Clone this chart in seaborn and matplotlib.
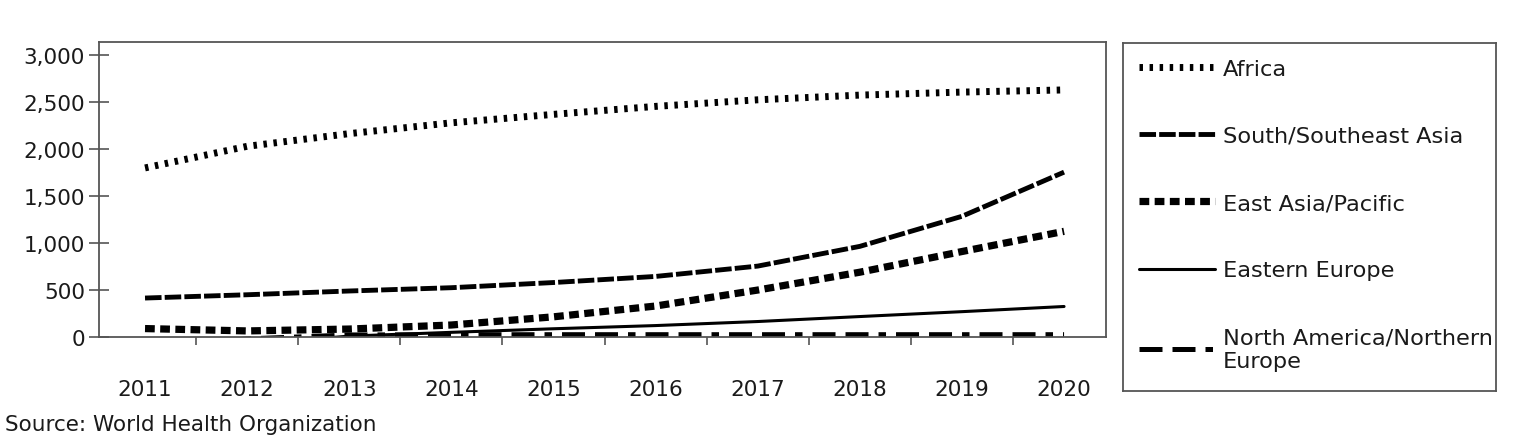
import numpy as np
import matplotlib
matplotlib.use("Agg")
import matplotlib.pyplot as plt
from matplotlib.ticker import FixedLocator, StrMethodFormatter
import seaborn as sns

years = [2011, 2012, 2013, 2014, 2015, 2016, 2017, 2018, 2019, 2020]
africa = [1800, 2030, 2165, 2280, 2370, 2455, 2525, 2575, 2607, 2630]
south_asia = [415, 450, 490, 525, 580, 645, 755, 965, 1285, 1755]
east_asia = [90, 65, 85, 128, 215, 330, 500, 690, 910, 1125]
east_europe = [-200, -80, 10, 50, 88, 122, 165, 218, 270, 325]
north_america = [-120, -20, 22, 24, 25, 25, 25, 25, 25, 25]

series_names = ["Africa", "South/Southeast Asia", "East Asia/Pacific",
                "Eastern Europe", "North America/Northern\nEurope"]

sns.set_style("white")
plt.rcParams['font.family'] = ['DejaVu Sans']

fig = plt.figure(figsize=(15.36, 4.39), dpi=100)
ax = fig.add_axes([0.0645, 0.23, 0.6555, 0.672])

styles = [
    (africa, 5.0, (0, (0.5, 0.95))),
    (south_asia, 3.5, (0, (3.4, 0.65))),
    (east_asia, 5.2, (0, (1.35, 0.75))),
    (east_europe, 2.2, '-'),
    (north_america, 3.6, (0, (4.6, 2, 4.6, 2, 1.5, 2))),
]
for (vals, lw, ls), name in zip(styles, series_names):
    sns.lineplot(x=years, y=vals, ax=ax, color='black', lw=lw,
                 linestyle=ls, label=name)

handles, labels = ax.get_legend_handles_labels()
if ax.get_legend() is not None:
    ax.get_legend().remove()

ax.set_xlim(2010.55, 2020.41)
ax.set_ylim(0, 3140)

# y axis
ax.set_yticks([0, 500, 1000, 1500, 2000, 2500, 3000])
ax.yaxis.set_major_formatter(StrMethodFormatter('{x:,.0f}'))
ax.tick_params(axis='y', direction='inout', length=14, width=1.2,
               color='#555555', labelsize=15.5, pad=3, left=True,
               labelcolor='#1a1a1a')

# x axis: ticks between years, labels at years
ax.xaxis.set_major_locator(FixedLocator([y + 0.5 for y in years[:-1]]))
ax.xaxis.set_minor_locator(FixedLocator(years))
ax.set_xticklabels([])
ax.set_xticklabels([str(y) for y in years], minor=True)
ax.tick_params(axis='x', which='major', direction='out', length=6,
               width=1.2, color='#555555', bottom=True)
ax.tick_params(axis='x', which='minor', length=0, labelsize=15.5, pad=30,
               bottom=True, labelcolor='#1a1a1a')

for sp in ax.spines.values():
    sp.set_color('#555555')
    sp.set_linewidth(1.3)
ax.set_xlabel('')
ax.set_ylabel('')

# legend box
lax = fig.add_axes([0.731, 0.107, 0.243, 0.793])
lax.set_xticks([])
lax.set_yticks([])
for sp in lax.spines.values():
    sp.set_color('#555555')
    sp.set_linewidth(1.3)
lax.legend(handles, labels, loc='upper left', frameon=False, fontsize=16.2,
           handlelength=3.4, handletextpad=0.35, labelspacing=2.1,
           borderaxespad=0.1, borderpad=0.6, labelcolor='#1a1a1a')

fig.text(0.003, 0.032, 'Source: World Health Organization', fontsize=15.5,
         va='center', ha='left', color='#1a1a1a')

fig.savefig('out.png', dpi=100)
